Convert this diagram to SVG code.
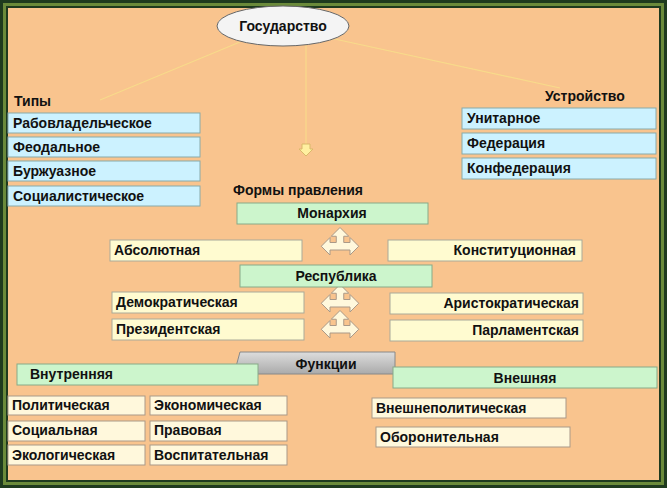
<svg xmlns="http://www.w3.org/2000/svg" width="667" height="488" viewBox="0 0 667 488">
<defs>
<style>
text{font-family:"Liberation Sans",Arial,sans-serif;font-weight:bold;font-size:14px;fill:#111}
.b{fill:#CCF2FF;stroke:#8aa;stroke-width:1}
.g{fill:#CCF5CC;stroke:#8a8;stroke-width:1}
.y{fill:#FFFBD0;stroke:#aa9;stroke-width:1}
.w{fill:#FFF8DC;stroke:#a98;stroke-width:1}
.ln{stroke:#F8E08A;stroke-width:1.2;fill:none;opacity:0.8}
</style>
<linearGradient id="gr" x1="0" y1="0" x2="0" y2="1"><stop offset="0" stop-color="#ddd"/><stop offset="1" stop-color="#aaa"/></linearGradient>
<path id="ar" d="M0,-14 L7,-7 L3,-7 L3,-2 L8,-2 L8,-6 L15,1 L8,8 L8,4 L-8,4 L-8,8 L-15,1 L-8,-6 L-8,-2 L-3,-2 L-3,-7 L-7,-7 Z"/>
</defs>
<rect x="0" y="0" width="667" height="488" fill="#1e3a1e"/>
<rect x="3" y="3" width="661" height="482" fill="#6a8a3a"/>
<rect x="6" y="6" width="655" height="476" fill="#1e3a1e"/>
<rect x="8" y="8" width="651" height="472" fill="#F9C48E"/>
<g id="connectors">
<line class="ln" x1="240" y1="42" x2="100" y2="100"/>
<line class="ln" x1="330" y1="38" x2="560" y2="88"/>
<line class="ln" x1="306" y1="45" x2="306" y2="145"/>
<path d="M302,144 L310,144 L310,149 L313,149 L306,156 L299,149 L302,149 Z" fill="#FFF0A0" stroke="#d9b96a"/>
<use href="#ar" transform="translate(340,245) scale(1.25)" fill="#FFF8DC" stroke="#a98" stroke-width="0.8"/>
<use href="#ar" transform="translate(340,302) scale(1.25)" fill="#FFF8DC" stroke="#a98" stroke-width="0.8"/>
<use href="#ar" transform="translate(340,328) scale(1.25)" fill="#FFF8DC" stroke="#a98" stroke-width="0.8"/>
</g>
<g id="state"><ellipse cx="283" cy="26" rx="66" ry="20" fill="#F4F4F4" stroke="#666"/><text x="283" y="31" text-anchor="middle" font-size="15">Государство</text></g>
<g id="types"><text x="14" y="106" font-size="15">Типы</text>
<rect class="b" x="8" y="113" width="192" height="20"/><text x="13" y="128">Рабовладельческое</text>
<rect class="b" x="8" y="137" width="192" height="20"/><text x="13" y="152">Феодальное</text>
<rect class="b" x="8" y="161" width="192" height="20"/><text x="13" y="176">Буржуазное</text>
<rect class="b" x="8" y="186" width="192" height="20"/><text x="13" y="201">Социалистическое</text></g>
<g id="structure"><text x="545" y="101" font-size="15">Устройство</text>
<rect class="b" x="462" y="108" width="194" height="21"/><text x="467" y="123">Унитарное</text>
<rect class="b" x="462" y="133" width="194" height="21"/><text x="467" y="148">Федерация</text>
<rect class="b" x="462" y="158" width="194" height="21"/><text x="467" y="173">Конфедерация</text></g>
<g id="forms"><text x="298" y="195" text-anchor="middle" font-size="14.5">Формы правления</text>
<rect class="g" x="237" y="203" width="191" height="21"/><text x="332" y="218" text-anchor="middle">Монархия</text>
<rect class="y" x="110" y="240" width="192" height="21"/><text x="114" y="255">Абсолютная</text>
<rect class="y" x="388" y="240" width="194" height="21"/><text x="576" y="255" text-anchor="end">Конституционная</text>
<rect class="g" x="240" y="265" width="192" height="22"/><text x="336" y="281" text-anchor="middle">Республика</text>
<rect class="y" x="112" y="292" width="192" height="21"/><text x="116" y="307">Демократическая</text>
<rect class="y" x="390" y="293" width="193" height="21"/><text x="579" y="308" text-anchor="end">Аристократическая</text>
<rect class="y" x="112" y="319" width="192" height="21"/><text x="116" y="334">Президентская</text>
<rect class="y" x="390" y="320" width="193" height="21"/><text x="579" y="335" text-anchor="end">Парламентская</text></g>
<g id="functions">
<path d="M240,352 L395,352 L395,374 L234,374 Z" fill="url(#gr)" stroke="#888"/><text x="326" y="369" text-anchor="middle" font-size="14.5">Функции</text>
<rect class="g" x="17" y="364" width="241" height="21"/><text x="30" y="379">Внутренняя</text>
<rect class="g" x="393" y="367" width="264" height="21"/><text x="525" y="383" text-anchor="middle">Внешняя</text>
<rect class="w" x="8" y="396" width="137" height="19"/><text x="12" y="410">Политическая</text>
<rect class="w" x="150" y="396" width="137" height="19"/><text x="154" y="410">Экономическая</text>
<rect class="w" x="8" y="421" width="137" height="20"/><text x="12" y="435">Социальная</text>
<rect class="w" x="150" y="421" width="137" height="20"/><text x="154" y="435">Правовая</text>
<rect class="w" x="8" y="445" width="137" height="20"/><text x="12" y="460">Экологическая</text>
<rect class="w" x="150" y="445" width="137" height="20"/><text x="154" y="460">Воспитательная</text>
<rect class="w" x="372" y="398" width="194" height="20"/><text x="376" y="413">Внешнеполитическая</text>
<rect class="w" x="376" y="427" width="194" height="20"/><text x="380" y="442">Оборонительная</text></g>
</svg>
